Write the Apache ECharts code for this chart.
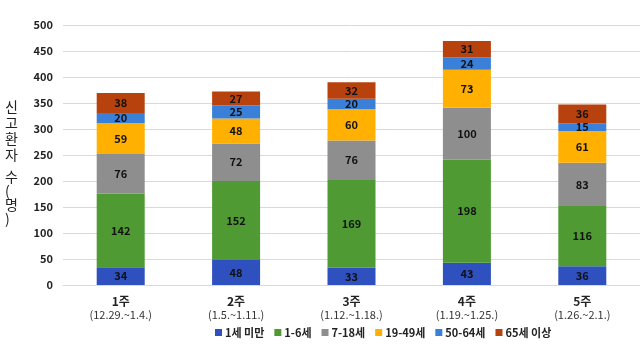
<!DOCTYPE html>
<html>
<head>
<meta charset="utf-8">
<script src="https://cdn.jsdelivr.net/npm/echarts@6/dist/echarts.min.js"></script>
<style>
  html, body { margin: 0; padding: 0; background: #fff; }
  #chart { width: 640px; height: 352px; }
</style>
</head>
<body>
<div id="chart"></div>
<script>
'use strict';

// 주차 / 기간
var weeks = ['1주', '2주', '3주', '4주', '5주'];
var periods = ['(12.29.~1.4.)', '(1.5.~1.11.)', '(1.12.~1.18.)', '(1.19.~1.25.)', '(1.26.~2.1.)'];

// 연령대별 신고환자 수
var ageGroups = ['1세 미만', '1-6세', '7-18세', '19-49세', '50-64세', '65세 이상'];
var under1 = [34, 48, 33, 43, 36];
var age1to6 = [142, 152, 169, 198, 116];
var age7to18 = [76, 72, 76, 100, 83];
var age19to49 = [59, 48, 60, 73, 61];
var age50to64 = [20, 25, 20, 24, 15];
var age65plus = [38, 27, 32, 31, 36];

var colors = ['#2f50bf', '#4f9a32', '#8e8e8e', '#ffb000', '#3a80d8', '#b8420e'];
var seriesData = [under1, age1to6, age7to18, age19to49, age50to64, age65plus];

var font = '"Noto Sans CJK KR", "Noto Sans", sans-serif';
var myChart = echarts.init(document.getElementById('chart'));

var series = [];
for (var i = 0; i < ageGroups.length; i++) {
    series.push({
        name: ageGroups[i],
        type: 'bar',
        stack: 'total',
        barWidth: 48,
        data: seriesData[i],
        itemStyle: { color: colors[i] },
        label: {
            show: true,
            position: 'inside',
            color: '#111',
            fontFamily: font,
            fontWeight: 'bold',
            fontSize: 11
        }
    });
}

// 세로 축 제목 (글자를 세워서 쌓음)
var nameStyle = {
    fontFamily: font,
    fontSize: 14,
    lineHeight: 16,
    fill: '#222',
    align: 'center'
};

var option = {
    animation: false,
    textStyle: { fontFamily: font },
    grid: {
        left: 63,
        width: 600,
        top: 25,
        bottom: 67,
        containLabel: false
    },
    legend: {
        data: ageGroups,
        bottom: 9,
        left: 210,
        itemWidth: 7,
        itemHeight: 7,
        itemGap: 10,
        icon: 'rect',
        textStyle: {
            fontFamily: font,
            fontWeight: 'bold',
            fontSize: 11,
            color: '#222',
            padding: [0, 0, 0, -2]
        }
    },
    xAxis: {
        type: 'category',
        data: weeks,
        axisLine: { lineStyle: { color: '#d9d9d9' } },
        axisTick: { show: false },
        axisLabel: {
            margin: 9,
            formatter: function (v, idx) {
                return '{w|' + v + '}\n{p|' + periods[idx] + '}';
            },
            rich: {
                w: { fontFamily: font, fontWeight: 'bold', fontSize: 12, color: '#222', lineHeight: 14 },
                p: { fontFamily: font, fontSize: 11, color: '#333', lineHeight: 14 }
            }
        }
    },
    yAxis: {
        type: 'value',
        min: 0,
        max: 500,
        interval: 50,
        axisLine: { show: false },
        axisTick: { show: false },
        splitLine: { lineStyle: { color: '#d9d9d9' } },
        axisLabel: {
            margin: 10,
            fontFamily: font,
            fontWeight: 'bold',
            fontSize: 11,
            color: '#222'
        }
    },
    graphic: [{
        type: 'text',
        left: 5,
        top: 99,
        style: Object.assign({ text: '신\n고\n환\n자' }, nameStyle)
    }, {
        type: 'text',
        left: 5,
        top: 170,
        style: Object.assign({ text: '수\n(\n명\n)' }, nameStyle, { lineHeight: 14 })
    }],
    series: series
};

myChart.setOption(option);
</script>
</body>
</html>
